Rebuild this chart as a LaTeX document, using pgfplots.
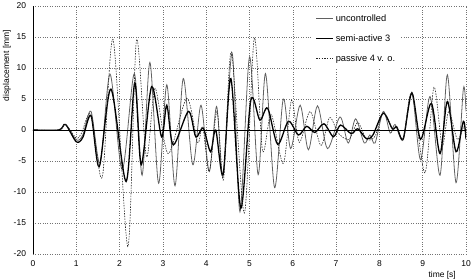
\documentclass[border=0pt]{standalone}
\usepackage{pgfplots}
\pgfplotsset{compat=1.18}
\usepackage{fontspec}
\setmainfont{Liberation Sans}
\begin{document}
\fontsize{8.5}{10}\selectfont
\begin{tikzpicture}
\begin{axis}[
  scale only axis, width=433bp, height=248bp,
  xmin=0, xmax=10, ymin=-20, ymax=20,
  xtick={0,1,...,10}, ytick={-20,-15,...,20},
  grid=major,
  major grid style={black!55, dotted, line width=0.6pt},
  axis line style={draw=none},
  major tick length=0pt,
  /pgf/number format/assume math mode=true,
  ticklabel style={font=\fontsize{8.5}{10}\selectfont},
  yticklabel style={xshift=-4bp},
  xticklabel style={yshift=-4bp},
  xlabel={time [s]}, ylabel={displacement [mm]},
  xlabel style={at={(rel axis cs:0.945,0)}, anchor=center, yshift=-21bp},
  ylabel style={at={(rel axis cs:0,0.76)}, anchor=center, yshift=26bp},
  legend style={at={(rel axis cs:0.645,0.99)}, anchor=north west, draw=none, fill=white,
    font=\fontsize{9.3}{10}\selectfont, row sep=8bp, inner xsep=3bp, inner ysep=4bp},
  legend cell align=left,
  legend image code/.code={\draw[#1] (0cm,0cm) -- (0.6cm,0cm);},
]
\addplot[black!62, line width=0.8pt, smooth, tension=0.5] coordinates {
(0,0) (0.6,0) (0.75,0.9) (1.0,-1.6) (1.15,-0.8) (1.34,3.0) (1.55,-5.3) (1.78,9.0)
(2.06,-6.4) (2.34,9.1) (2.52,-7.3) (2.7,10.9) (2.9,-8.6) (3.09,7.3) (3.28,-9.0)
(3.47,8.3) (3.69,-5.6) (3.88,4.0) (4.07,-6.7) (4.24,3.8) (4.39,-7.5) (4.6,12.4)
(4.78,-13.2) (5.0,11.8) (5.2,-7.2) (5.37,9.1) (5.58,-9.3) (5.78,5.0) (5.95,-3.0)
(6.17,4.0) (6.36,-3.2) (6.57,3.9) (6.8,-3.0) (7.09,2.1) (7.28,-2.1) (7.45,1.8)
(7.65,-2.1) (7.78,-0.8) (7.9,-2.1) (8.09,3.0) (8.25,-0.5) (8.36,0.9) (8.55,-1.6)
(8.75,6.0) (8.95,-4.8) (9.17,5.4) (9.4,-7.3) (9.57,8.9) (9.77,-8.5) (9.94,6.7) (10,3.0)
};
\addlegendentry{uncontrolled}
\addplot[black, line width=1.3pt, smooth, tension=0.5] coordinates {
(0,0) (0.6,0) (0.75,0.9) (1.0,-1.9) (1.15,-1.2) (1.34,2.3) (1.53,-5.9) (1.8,6.6)
(2.15,-8.3) (2.35,7.6) (2.5,-5.6) (2.74,7.0) (2.97,-1.1) (3.09,4.0) (3.24,-2.4)
(3.59,3.0) (3.76,-1.1) (3.93,0.3) (4.1,-3.5) (4.22,0.0) (4.39,-7.2) (4.57,8.3)
(4.8,-12.6) (5.03,4.8) (5.24,1.6) (5.42,3.5) (5.65,-2.3) (5.9,1.4) (6.13,-0.8)
(6.32,0.6) (6.51,-0.4) (6.72,1.0) (6.94,-1.1) (7.1,0.8) (7.35,-0.6) (7.5,0.2)
(7.7,-1.4) (7.85,-0.8) (8.09,2.7) (8.3,0.2) (8.4,0.5) (8.55,-1.4) (8.75,6.0)
(8.95,-1.5) (9.2,4.3) (9.4,-3.8) (9.57,4.6) (9.77,-3.5) (9.94,1.4) (10,-1.5)
};
\addlegendentry{semi-active 3}
\addplot[black!85, line width=0.6pt, dash pattern=on 1.5pt off 1.2pt, smooth, tension=0.5] coordinates {
(0,0) (0.6,0) (0.75,0.9) (1.0,-1.3) (1.12,-0.5) (1.34,2.5) (1.6,-7.6) (1.85,14.6)
(2.19,-18.8) (2.39,14.5) (2.62,-4.3) (2.82,6.7) (3.12,-3.8) (3.55,5.1) (3.8,-2.0)
(3.92,0.5) (4.07,-6.7) (4.25,3.0) (4.4,-8.0) (4.58,12.6) (4.88,-13.4) (5.11,14.8)
(5.3,-3.3) (5.5,2.5) (5.78,-5.4) (5.97,4.8) (6.15,-2.0) (6.4,3.0) (6.65,-2.5)
(6.85,2.0) (7.05,-0.5) (7.3,-1.5) (7.5,1.2) (7.7,-1.5) (7.9,-1.0) (8.09,2.8)
(8.3,0.3) (8.4,0.6) (8.55,-1.4) (8.75,6.0) (9.05,-6.9) (9.26,6.9) (9.45,-2.5)
(9.6,3.0) (9.8,-1.5) (9.95,0.5) (10,-1.0)
};
\addlegendentry{passive 4 v. o.}
\addplot[black, line width=0.9pt, forget plot] coordinates {(0,0) (10,0)};
\draw[black, line width=0.9pt] (rel axis cs:0,0) -- (rel axis cs:0,1);
\end{axis}
\pgfresetboundingbox
\path[use as bounding box] ([xshift=-33bp,yshift=-26bp]current axis.south west) rectangle ([xshift=8bp,yshift=6bp]current axis.north east);
\end{tikzpicture}
\end{document}
